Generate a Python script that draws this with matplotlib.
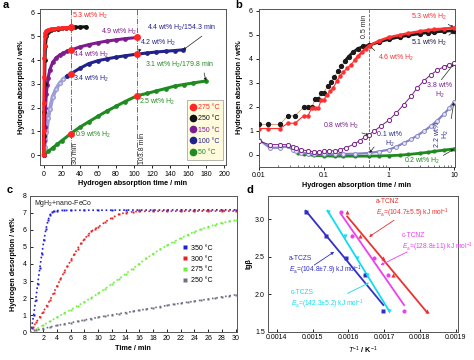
import numpy as np
import matplotlib
matplotlib.use('Agg')
import matplotlib.pyplot as plt
from matplotlib.lines import Line2D
from matplotlib.ticker import FixedLocator, FixedFormatter, NullFormatter, LogLocator

plt.rcParams['font.family'] = ['Liberation Sans', 'DejaVu Sans']
plt.rcParams['font.size'] = 5
plt.rcParams['mathtext.fontset'] = 'custom'
plt.rcParams['mathtext.rm'] = 'Liberation Sans'
plt.rcParams['mathtext.it'] = 'Liberation Sans:italic'
plt.rcParams['mathtext.bf'] = 'Liberation Sans:bold'
plt.rcParams['axes.linewidth'] = 0.7
plt.rcParams['axes.edgecolor'] = '#555555'
plt.rcParams['xtick.major.width'] = 0.6
plt.rcParams['ytick.major.width'] = 0.6
plt.rcParams['xtick.major.size'] = 2
plt.rcParams['ytick.major.size'] = 2
plt.rcParams['xtick.major.pad'] = 2
plt.rcParams['ytick.major.pad'] = 2

# ---------------- panel a data ----------------
a_t275 = [0, 0.2, 0.4, 0.6, 0.8, 1, 1.5, 2, 3, 5, 8, 12, 16, 20, 25, 30]
a_w275 = [0, 1.0, 2.2, 3.3, 4.1, 4.6, 5.0, 5.15, 5.22, 5.27, 5.3, 5.32, 5.34, 5.35, 5.37, 5.38]
a_t250 = [0, 0.3, 0.6, 1, 1.5, 2, 3, 5, 8, 12, 16, 20, 25, 30, 35, 40, 47]
a_w250 = [0, 0.8, 1.8, 3.0, 4.0, 4.6, 5.0, 5.18, 5.25, 5.29, 5.31, 5.33, 5.35, 5.37, 5.38, 5.39, 5.4]
a_t150 = [0, 0.5, 1, 2, 3, 4, 5, 7, 10, 14, 18, 22, 26, 30, 40, 50, 60, 70, 80, 90, 103.8]
a_w150 = [0, 0.6, 1.2, 2.0, 2.55, 2.95, 3.25, 3.6, 3.9, 4.1, 4.22, 4.3, 4.37, 4.42, 4.55, 4.65, 4.73, 4.8, 4.85, 4.9, 4.95]
a_t100 = [0, 1, 2, 3, 5, 7, 10, 14, 18, 22, 26, 30, 40, 50, 60, 70, 80, 90, 103.8, 115, 125, 135, 145, 154.3]
a_w100 = [0, 0.35, 0.65, 0.95, 1.55, 1.95, 2.45, 2.8, 3.03, 3.2, 3.32, 3.42, 3.65, 3.85, 3.97, 4.05, 4.12, 4.18, 4.25, 4.3, 4.34, 4.37, 4.4, 4.43]
a_t50 = [0, 5, 10, 15, 20, 30, 40, 50, 60, 70, 80, 90, 103.8, 115, 125, 135, 145, 155, 165, 179.8]
a_w50 = [0, 0.15, 0.3, 0.45, 0.6, 0.9, 1.17, 1.4, 1.63, 1.85, 2.05, 2.25, 2.5, 2.6, 2.7, 2.8, 2.9, 2.97, 3.03, 3.12]
a_mark_t = [30, 30, 30, 30, 103.8, 103.8, 103.8]
a_mark_w = [5.38, 4.42, 3.42, 0.9, 4.95, 4.25, 2.5]
a_labels = ['275 °C', '250 °C', '150 °C', '100 °C', '50 °C']

# ---------------- panel b data ----------------
b_tblk = [0.01, 0.014, 0.021, 0.028, 0.036, 0.049, 0.057, 0.065, 0.074, 0.082, 0.091, 0.1, 0.115, 0.13, 0.145, 0.165,
          0.185, 0.21, 0.24, 0.28, 0.33, 0.4, 0.5, 0.7, 1, 1.5, 2, 3, 4, 5, 7, 10]
b_wblk = [1.27, 1.27, 1.27, 1.63, 1.63, 1.98, 1.98, 1.98, 2.33, 2.33, 2.6, 2.6, 2.88, 3.05, 3.25, 3.5,
          3.7, 3.9, 4.1, 4.27, 4.42, 4.52, 4.57, 4.7, 4.82, 4.92, 4.98, 5.05, 5.1, 5.12, 5.15, 5.18]
b_tred = [0.01, 0.014, 0.021, 0.028, 0.036, 0.049, 0.057, 0.065, 0.074, 0.082, 0.091, 0.1, 0.11, 0.125, 0.14, 0.16, 0.18,
          0.2, 0.23, 0.26, 0.3, 0.34, 0.39, 0.44, 0.5, 0.7, 1, 1.5, 2, 3, 4, 5, 7, 10]
b_wred = [1.1, 1.1, 1.1, 1.32, 1.32, 1.63, 1.63, 1.94, 1.94, 1.94, 2.29, 2.29, 2.49, 2.65, 2.8, 3.1, 3.3,
          3.46, 3.62, 3.76, 3.95, 4.12, 4.3, 4.43, 4.55, 4.75, 4.9, 5.0, 5.07, 5.15, 5.2, 5.23, 5.26, 5.3]
b_tpur = [0.01, 0.0147, 0.021, 0.028, 0.033, 0.038, 0.045, 0.057, 0.07, 0.085, 0.1, 0.12, 0.15, 0.18, 0.22, 0.29,
          0.36, 0.43, 0.5, 0.6, 0.75, 1, 1.3, 1.7, 2.2, 2.7, 3.5, 4.4, 5.5, 7, 8.5, 10]
b_wpur = [0.57, 0.43, 0.43, 0.43, 0.35, 0.29, 0.22, 0.16, 0.14, 0.14, 0.15, 0.16, 0.18, 0.22, 0.3, 0.45,
          0.6, 0.75, 0.85, 1.0, 1.2, 1.45, 1.75, 2.1, 2.45, 2.78, 3.1, 3.34, 3.52, 3.68, 3.76, 3.82]
b_tlav = [0.01, 0.0147, 0.021, 0.028, 0.033, 0.038, 0.045, 0.057, 0.07, 0.1, 0.15, 0.2, 0.3, 0.5, 0.7, 1, 1.3,
          1.7, 2.2, 2.7, 3.5, 4.4, 5.5, 7, 8.5, 10]
b_wlav = [0.64, 0.3, 0.3, 0.36, 0.22, 0.15, 0.1, 0.05, 0.03, 0.02, 0.03, 0.04, 0.05, 0.08, 0.14, 0.22, 0.34,
          0.5, 0.65, 0.8, 1.0, 1.2, 1.42, 1.7, 1.95, 2.2]
b_tgrn = [0.04, 0.05, 0.07, 0.1, 0.15, 0.2, 0.3, 0.5, 0.7, 1, 1.5, 2, 3, 4, 5, 7, 10]
b_wgrn = [0.08, 0.03, -0.02, -0.04, -0.05, -0.05, -0.05, -0.05, -0.04, -0.03, -0.01, 0.02, 0.07, 0.11, 0.15, 0.2, 0.25]

# ---------------- panel c data ----------------
c_t350 = [0, 0.3, 0.6, 0.9, 1.2, 1.5, 1.8, 2.1, 2.4, 2.7, 3.0, 3.3, 3.6, 4, 5, 6, 8, 10, 12, 14, 16, 18, 20, 22, 24, 26, 28, 30]
c_w350 = [0, 0.25, 1.0, 1.9, 2.85, 3.75, 4.6, 5.4, 6.05, 6.55, 6.88, 7.02, 7.08, 7.12, 7.13, 7.13, 7.14, 7.14, 7.14,
          7.15, 7.15, 7.15, 7.15, 7.16, 7.16, 7.16, 7.16, 7.16]
c_t300 = [0, 0.5, 1, 1.5, 2, 2.5, 3, 3.5, 4, 4.5, 5, 5.5, 6, 6.5, 7, 7.5, 8, 8.5, 9, 9.5, 10, 11, 12, 13, 14, 15, 16,
          18, 20, 22, 24, 26, 28, 30]
c_w300 = [0, 0.3, 0.6, 0.9, 1.2, 1.55, 1.9, 2.3, 2.7, 3.1, 3.5, 3.85, 4.2, 4.55, 4.9, 5.2, 5.45, 5.7, 5.9, 6.05, 6.15,
          6.45, 6.7, 6.9, 7.0, 7.05, 7.07, 7.08, 7.08, 7.08, 7.09, 7.09, 7.09, 7.09]
c_t275 = list(range(0, 31))
c_w275 = [0, 0.2, 0.42, 0.65, 0.88, 1.1, 1.32, 1.55, 1.78, 2.02, 2.27, 2.55, 2.83, 3.12, 3.42, 3.72, 4.02, 4.32, 4.6,
          4.85, 5.08, 5.3, 5.5, 5.7, 5.88, 6.03, 6.17, 6.3, 6.4, 6.48, 6.55]
c_t250 = list(range(0, 31))
c_w250 = [0.02, 0.12, 0.22, 0.31, 0.4, 0.48, 0.56, 0.64, 0.72, 0.8, 0.88, 0.95, 1.02, 1.09, 1.15, 1.22, 1.29, 1.36,
          1.43, 1.5, 1.57, 1.64, 1.7, 1.76, 1.82, 1.88, 1.94, 2.0, 2.07, 2.13, 2.19]
c_labels = ['350 °C', '300 °C', '275 °C', '250 °C']

# ---------------- panel d data ----------------
d_x_aTCZS = [0.001481, 0.001537, 0.001593, 0.001646, 0.001698]
d_x_cTCZS = [0.001542, 0.001591, 0.001623, 0.001651, 0.001714]
d_x_cTCNZ = [0.001579, 0.001611, 0.001672, 0.001711, 0.001756]
d_x_aTCNZ = [0.001597, 0.001633, 0.001698, 0.001726, 0.001821]
d_lgb = [3.09, 2.78, 2.48, 2.25, 1.78]

fig = plt.figure(figsize=(4.74, 3.6), dpi=100)

def px_axes(l, t, r, b):
    W, H = 474.0, 360.0
    return fig.add_axes([l / W, 1 - b / H, (r - l) / W, (b - t) / H])

# ================= panel a =================
axa = px_axes(40, 9, 226, 165)
C_RED, C_BLK, C_PUR, C_NAV, C_LAV, C_GRN = '#ff2626', '#111111', '#7e1b8e', '#22228c', '#9c9cd8', '#1f8c1f'
axa.plot(a_t50, a_w50, '-o', color=C_GRN, lw=2.2, ms=2.4, zorder=3)
n30 = a_t100.index(30)
axa.plot(a_t100[:n30 + 1], a_w100[:n30 + 1], '-o', color=C_LAV, lw=2.8, ms=2.6, mfc='#d8d8f0', mec=C_LAV, zorder=3)
axa.plot(a_t100[n30 - 1:], a_w100[n30 - 1:], '-o', color=C_NAV, lw=2.2, ms=2.4, zorder=3)
axa.plot(a_t150, a_w150, '-o', color=C_PUR, lw=2.2, ms=2.4, zorder=3)
axa.plot(a_t250, a_w250, '-o', color=C_BLK, lw=2.2, ms=2.4, zorder=3)
axa.plot(a_t275, a_w275, '-o', color=C_RED, lw=2.2, ms=2.4, zorder=4)
axa.plot(a_mark_t, a_mark_w, 'o', color=C_RED, ms=5, zorder=6, mec='none')
for xv, lab in [(30, '30 min'), (103.8, '103.8 min')]:
    axa.axvline(xv, color='#555555', ls='-.', lw=0.6, zorder=2)
    axa.text(xv + 1.5, -0.38, lab, rotation=90, ha='left', va='bottom', fontsize=5, color='#222222')

H2 = 'H$_2$'
axa.text(31.3, 5.88, '5.3 wt% ' + H2, color=C_RED, va='center', ha='left', fontsize=5)
axa.text(63.6, 5.2, '4.9 wt% ' + H2, color=C_PUR, va='center', ha='left', fontsize=5)
axa.annotate('4.4 wt% ' + H2 + '/154.3 min', xy=(154.3, 4.42), xytext=(114.4, 5.34), color=C_NAV,
             va='center', ha='left', fontsize=5,
             arrowprops=dict(arrowstyle='-|>', color='#222222', lw=0.5, mutation_scale=4, shrinkA=0, shrinkB=0,
                             relpos=(0.85, 0.0)))
axa.annotate('4.2 wt% ' + H2, xy=(105, 4.27), xytext=(107.2, 4.73), color=C_NAV, va='center', ha='left', fontsize=5,
             arrowprops=dict(arrowstyle='-|>', color='#222222', lw=0.5, mutation_scale=4, shrinkA=0, shrinkB=1,
                             relpos=(0.0, 0.0)))
axa.text(32.7, 4.21, '4.4 wt% ' + H2, color=C_PUR, va='center', ha='left', fontsize=5)
axa.text(32.7, 3.21, '3.4 wt% ' + H2, color=C_NAV, va='center', ha='left', fontsize=5)
axa.annotate('3.1 wt% ' + H2 + '/179.8 min', xy=(179.8, 3.12), xytext=(111.9, 3.79), color=C_GRN,
             va='center', ha='left', fontsize=5,
             arrowprops=dict(arrowstyle='-|>', color='#222222', lw=0.5, mutation_scale=4, shrinkA=0, shrinkB=0,
                             relpos=(0.85, 0.0)))
axa.text(105.3, 2.23, '2.5 wt% ' + H2, color=C_GRN, va='center', ha='left', fontsize=5)
axa.text(34.5, 0.83, '0.9 wt% ' + H2, color=C_GRN, va='center', ha='left', fontsize=5)

a_cols = [C_RED, C_BLK, C_PUR, C_NAV, C_GRN]
handles = [Line2D([], [], marker='o', ls='none', color=c, ms=4.5) for c in a_cols]
lega = axa.legend(handles, a_labels, loc='lower right', bbox_to_anchor=(0.985, 0.03), fontsize=5,
                  frameon=True, fancybox=False, facecolor='#fffbdc', edgecolor='#999999', framealpha=1,
                  handlelength=0.6, handletextpad=0.3, labelspacing=0.62, borderpad=0.6, borderaxespad=0)
lega.get_frame().set_linewidth(0.5)
for txt, c in zip(lega.get_texts(), a_cols):
    txt.set_color(c)
axa.set_xlim(-4, 202)
axa.set_ylim(-0.42, 6.15)
axa.set_xticks(np.arange(0, 201, 20))
axa.set_yticks(np.arange(0, 7, 1))
axa.tick_params(labelsize=5, direction='out')
axa.set_xlabel('Hydrogen absorption time / min', fontsize=5.2, fontweight='bold', labelpad=2)
axa.set_ylabel('Hydrogen absorption / wt%', fontsize=5.2, fontweight='bold', labelpad=4)

# ================= panel b =================
axb = px_axes(258.5, 8.5, 455, 166.7)
B_RED, B_BLK, B_PUR, B_LAV, B_GRN = '#ff3030', '#1a1a1a', '#7a1f8a', '#8585c6', '#1f8a1f'
axb.axvline(0.5, color='#666666', ls='--', lw=0.6, zorder=2)
axb.plot(b_tgrn, b_wgrn, '-o', color=B_GRN, lw=2.0, ms=2.0, zorder=3)
axb.plot(b_tlav, b_wlav, '-o', color=B_LAV, lw=1.6, ms=2.8, mfc='#e4e4f6', mec=B_LAV, mew=0.6, zorder=3)
axb.plot(b_tpur, b_wpur, '-o', color=B_PUR, lw=0.7, ms=3.0, mfc='white', mec=B_PUR, mew=0.7, zorder=4)
axb.plot(b_tblk, b_wblk, '-o', color='#d08040', lw=0.5, ms=2.8, mfc=B_BLK, mec=B_BLK, zorder=4)
axb.plot(b_tblk[17:], b_wblk[17:], '-', color=B_BLK, lw=2.0, zorder=4)
axb.plot(b_tred, b_wred, '-o', color=B_RED, lw=0.8, ms=2.2, zorder=5)
axb.plot(b_tred[20:], b_wred[20:], '-', color=B_RED, lw=1.8, zorder=5)
axb.text(0.47, 5.85, '0.5 min', rotation=90, ha='right', va='top', fontsize=5, color='#222222')

arw = dict(arrowstyle='-|>', color='#222222', lw=0.5, mutation_scale=4, shrinkA=0, shrinkB=0)
axb.annotate('5.3 wt% ' + H2, xy=(10, 5.3), xytext=(2.17, 5.77), color=B_RED, va='center', ha='left', fontsize=5,
             arrowprops=dict(arw, relpos=(0.9, 0.0)))
axb.annotate('5.1 wt% ' + H2, xy=(10, 5.15), xytext=(2.17, 4.66), color='#1a1a40', va='center', ha='left',
             fontsize=5, arrowprops=dict(arw, relpos=(0.95, 1.0)))
axb.annotate('4.6 wt% ' + H2, xy=(0.5, 4.55), xytext=(0.67, 4.03), color=B_RED, va='center', ha='left', fontsize=5,
             arrowprops=dict(arw, relpos=(0.0, 1.0)))
axb.annotate('3.8 wt%\n' + H2, xy=(10, 3.8), xytext=(5.96, 2.66), color=B_PUR, va='center', ha='center',
             fontsize=5, multialignment='center', linespacing=1.0, arrowprops=dict(arw, relpos=(0.5, 1.0)))
axb.annotate('0.8 wt% ' + H2, xy=(0.5, 0.82), xytext=(0.0964, 1.19), color=B_PUR, va='center', ha='left',
             fontsize=5, arrowprops=dict(arw, relpos=(0.95, 0.0)))
axb.annotate('0.1 wt%\n' + H2, xy=(0.5, 0.08), xytext=(1.02, 0.62), color='#2a2a90', va='center', ha='center',
             fontsize=5, multialignment='center', linespacing=1.0, arrowprops=dict(arw, relpos=(0.0, 0.3)))
axb.annotate('2.2 wt%\n' + H2, xy=(10, 2.2), xytext=(6.6, 0.87), color='#2a2a90', va='center', ha='center',
             rotation=90, fontsize=5, multialignment='center', linespacing=1.0,
             arrowprops=dict(arw, relpos=(1.0, 1.0)))
axb.annotate('0.2 wt% ' + H2, xy=(10, 0.24), xytext=(1.72, -0.26), color=B_GRN, va='center', ha='left', fontsize=5,
             arrowprops=dict(arw, relpos=(0.95, 0.8)))
axb.set_xscale('log')
axb.set_xlim(0.0099, 10.4)
axb.set_ylim(-0.49, 6.1)
axb.xaxis.set_major_locator(FixedLocator([0.01, 0.1, 1, 10]))
axb.xaxis.set_major_formatter(FixedFormatter(['0.01', '0.1', '1', '10']))
axb.xaxis.set_minor_locator(LogLocator(base=10, subs=np.arange(2, 10)))
axb.xaxis.set_minor_formatter(NullFormatter())
axb.set_yticks(np.arange(0, 7, 1))
axb.tick_params(labelsize=5, direction='out')
axb.tick_params(axis='x', which='minor', direction='in', length=1.3, width=0.4)
axb.set_xlabel('Hydrogen absorption time / min', fontsize=5.2, fontweight='bold', labelpad=2)
axb.set_ylabel('Hydrogen absorption / wt%', fontsize=5.2, fontweight='bold', labelpad=4)

# ================= panel c =================
axc = px_axes(29.5, 195.5, 237, 332.3)
c_cols = ['#1f1fd6', '#e42020', '#6ef03a', '#707080']
for tt, ww, cc in zip([c_t350, c_t300, c_t275, c_t250], [c_w350, c_w300, c_w275, c_w250], c_cols):
    axc.plot(tt, ww, ls='none', marker='s', ms=1.6, color=cc, mec='none', zorder=3)
    axc.plot(tt, ww, ls=':', lw=1.2, color=cc, zorder=2)
hc = [Line2D([], [], marker='s', ls='none', color=c, ms=2.2, mec='none') for c in c_cols]
legc = axc.legend(hc, c_labels, loc='upper left', bbox_to_anchor=(0.74, 0.64), frameon=False, fontsize=5,
                  handlelength=0.6, handletextpad=0.5, labelspacing=0.55, borderpad=0, borderaxespad=0)
axc.text(0.6, 7.55, 'MgH$_2$+nano-FeCo', fontsize=5, ha='left', va='center', color='#222222')
axc.set_xlim(0, 30.2)
axc.set_ylim(0, 8)
axc.set_xticks(np.arange(2, 31, 2))
axc.set_yticks(np.arange(0, 9, 1))
axc.tick_params(labelsize=5, direction='in')
axc.set_xlabel('Time / min', fontsize=5.2, fontweight='bold', labelpad=2)
axc.set_ylabel('Hydrogen desorption / wt%', fontsize=5.2, fontweight='bold', labelpad=4)

# ================= panel d =================
axd = px_axes(267.5, 196, 457.7, 331.7)
d_series = [(d_x_aTCZS, '#3030c8', 's'), (d_x_cTCZS, '#10dcef', 'v'), (d_x_cTCNZ, '#ee3ff0', 'o'),
            (d_x_aTCNZ, '#ee3030', '^')]
for xs, col, mk in d_series:
    xs_a = np.array(xs)
    p = np.polyfit(xs_a, d_lgb, 1)
    xf = np.array([xs_a.min(), xs_a.max()])
    axd.plot(xf, np.polyval(p, xf), '-', color=col, lw=1.3, zorder=2)
    axd.plot(xs_a, d_lgb, ls='none', marker=mk, color=col, ms=3.0, mec='none', zorder=3)

darw = lambda c: dict(arrowstyle='-|>', color=c, lw=0.6, mutation_scale=4, shrinkA=0, shrinkB=0)
Ea = '$E_{\\rm a}$'
axd.text(0.0016765, 3.134, 'a-TCNZ\n' + Ea + '=(104.7±5.5) kJ mol$^{-1}$', color='#ee3030', fontsize=4.8,
         ha='left', va='center', linespacing=1.15)
axd.annotate('', xy=(0.001658, 2.765), xytext=(0.001728, 2.987), arrowprops=darw('#ee3030'))
axd.text(0.0017491, 2.681, 'c-TCNZ\n' + Ea + '=(128.8±11) kJ mol$^{-1}$', color='#ee3ff0', fontsize=4.8,
         ha='left', va='center', linespacing=1.15)
axd.annotate('', xy=(0.00169, 2.388), xytext=(0.001765, 2.565), arrowprops=darw('#ee3ff0'))
axd.text(0.0014346, 2.375, 'a-TCZS\n' + Ea + '=(104.8±7.9) kJ mol$^{-1}$', color='#3030c8', fontsize=4.8,
         ha='left', va='center', linespacing=1.15)
axd.annotate('', xy=(0.0015603, 2.565), xytext=(0.0015045, 2.388), arrowprops=darw('#3030c8'))
axd.text(0.001439, 1.922, 'c-TCZS\n' + Ea + '=(142.3±5.2) kJ mol$^{-1}$', color='#10dcef', fontsize=4.8,
         ha='left', va='center', linespacing=1.15)
axd.annotate('', xy=(0.001658, 2.152), xytext=(0.0015975, 2.011), arrowprops=darw('#10dcef'))
axd.set_xlim(0.001374, 0.001906)
axd.set_ylim(1.5, 3.31)
axd.set_xticks([0.0014, 0.0015, 0.0016, 0.0017, 0.0018, 0.0019])
axd.set_xticklabels(['0.0014', '0.0015', '0.0016', '0.0017', '0.0018', '0.0019'])
axd.set_yticks([1.5, 2.0, 2.5, 3.0])
axd.set_yticklabels(['1.5', '2.0', '2.5', '3.0'])
axd.tick_params(labelsize=5, direction='in')
axd.set_xlabel('$T^{-1}$ / K$^{-1}$', fontsize=5.2, fontweight='bold', labelpad=2)
axd.set_ylabel('lgβ', fontsize=5.2, fontweight='bold', labelpad=2)

# panel letters
for lbl, x, y in [('a', 6, 5), ('b', 239, 5), ('c', 10, 190), ('d', 250, 190)]:
    fig.text(x / 474, 1 - y / 360, lbl, fontsize=8, fontweight='bold', ha='center', va='center')

fig.savefig('out.png', dpi=100)
